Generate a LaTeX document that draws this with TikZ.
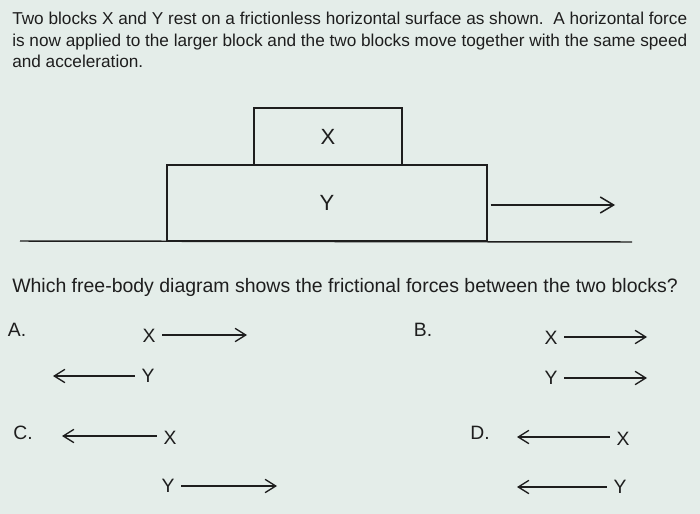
\documentclass[tikz,border=0pt]{standalone}
\usepackage{fontspec}
\setmainfont{Liberation Sans}
\usetikzlibrary{arrows.meta}
\definecolor{screen}{RGB}{228,237,233}
\definecolor{ink}{RGB}{30,30,30}

\begin{document}
\begin{tikzpicture}[x=0.75pt,y=-0.75pt, text=ink,
        block/.style={draw=ink, line width=1.1pt, inner sep=0pt, font=\fontsize{16.5}{18}\selectfont},
        lab/.style={inner sep=5pt, font=\fontsize{14.5}{16}\selectfont},
        txt/.style={anchor=base west, inner sep=0pt, font=\fontsize{12.9}{15}\selectfont},
        force/.style={draw=ink, -{Straight Barb[length=8pt,width=10pt,line width=1pt]}, line width=1pt},
        push/.style={draw=ink, -{Straight Barb[length=10pt,width=12pt,line width=1.1pt]}, line width=1.1pt}]
    \fill[screen] (0,0) rectangle (700,514);
    \useasboundingbox (0,0) rectangle (700,514);

    % question
    \node[txt] (t1) at (12,25) {Two blocks X and Y rest on a frictionless horizontal surface as shown.\ \ A horizontal force};
    \node[txt] (t2) at (12,46) {is now applied to the larger block and the two blocks move together with the same speed};
    \node[txt] (t3) at (12,67) {and acceleration.};

    % blocks on the surface
    \node[block, minimum width=111pt, minimum height=42.75pt] (X) at (328,136.5) {X};
    \node[block, minimum width=240pt, minimum height=57pt] (Y) at (327,203) {Y};
    \coordinate (g1) at (20,241);
    \coordinate (g2) at (632,242);
    \coordinate (F) at (615,205);
    \draw[ink, line width=1.1pt] (g1) -- (g2);
    \draw[push] (Y.east |- F) ++(3,0) coordinate (F0) -- (F);

    \node[txt, font=\fontsize{14.6}{17}\selectfont] (q) at (12,292) {Which free-body diagram shows the frictional forces between the two blocks?};

    % answers
    \node[lab] (A) at (17,330) {A.};
    \node[lab] (AX) at (149,336) {X};
    \node[lab] (AY) at (148,376) {Y};
    \coordinate (AXe) at (247,335);
    \coordinate (AYe) at (53,376);
    \draw[force] (AX.east |- AXe) -- (AXe);
    \draw[force] (AY) -- (AYe);

    \node[lab] (B) at (423,330) {B.};
    \node[lab] (BX) at (551,338) {X};
    \node[lab] (BY) at (551,378) {Y};
    \coordinate (BXe) at (647,337);
    \coordinate (BYe) at (647,378);
    \draw[force] (BX.east |- BXe) -- (BXe);
    \draw[force] (BY) -- (BYe);

    \node[lab] (C) at (23,433) {C.};
    \node[lab] (CX) at (170,438) {X};
    \node[lab] (CY) at (168,486) {Y};
    \coordinate (CXe) at (62,436);
    \coordinate (CYe) at (277,486);
    \draw[force] (CX.west |- CXe) -- (CXe);
    \draw[force] (CY) -- (CYe);

    \node[lab] (D) at (480,433) {D.};
    \node[lab] (DX) at (623,439) {X};
    \node[lab] (DY) at (620,487) {Y};
    \coordinate (DXe) at (517,437);
    \coordinate (DYe) at (517,487);
    \draw[force] (DX.west |- DXe) -- (DXe);
    \draw[force] (DY) -- (DYe);
\end{tikzpicture}
\end{document}
